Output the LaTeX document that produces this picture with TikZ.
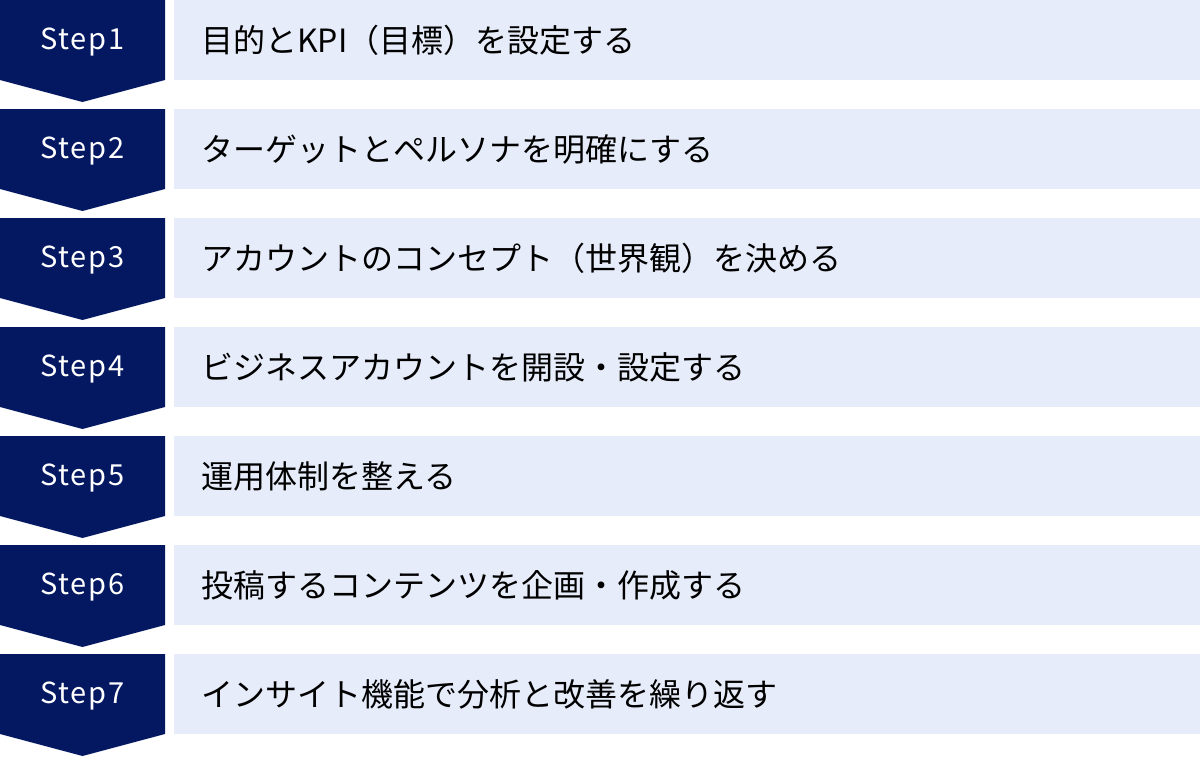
\documentclass[tikz,border=0pt]{standalone}
\usepackage{fontspec}
\usepackage{tikz}
\newfontfamily\cjk{Noto Sans CJK JP}
\newfontfamily\steplatin[LetterSpace=6]{Noto Sans CJK JP}
\definecolor{navy}{HTML}{041862}
\definecolor{paleblue}{HTML}{E6ECF9}

\begin{document}
\begin{tikzpicture}[x=1pt, y=-1pt,
	steplabel/.style={text=white, inner sep=0pt, font=\steplatin\fontsize{29}{34}\selectfont},
	itemtext/.style={text=black, inner sep=0pt, anchor=west, font=\cjk\fontsize{32}{36}\selectfont}]
	\useasboundingbox (0,0) rectangle (1200,756);
	\foreach \i/\txt in {1/{目的とKPI（目標）を設定する},
		2/{ターゲットとペルソナを明確にする},
		3/{アカウントのコンセプト（世界観）を決める},
		4/{ビジネスアカウントを開設・設定する},
		5/{運用体制を整える},
		6/{投稿するコンテンツを企画・作成する},
		7/{インサイト機能で分析と改善を繰り返す}}{
		\pgfmathsetmacro{\rowtop}{(\i-1)*109}
		\fill[navy] (0,\rowtop) -- (165,\rowtop) -- (165,\rowtop+80)
			-- (82.5,\rowtop+102) -- (0,\rowtop+80) -- cycle;
		\fill[paleblue] (174,\rowtop) rectangle (1200,\rowtop+80);
		\node[steplabel] (step\i) at (82.5,\rowtop+42) {Step\i};
		\node[itemtext] (item\i) at (201,\rowtop+40) {\txt};
	}
\end{tikzpicture}
\end{document}
